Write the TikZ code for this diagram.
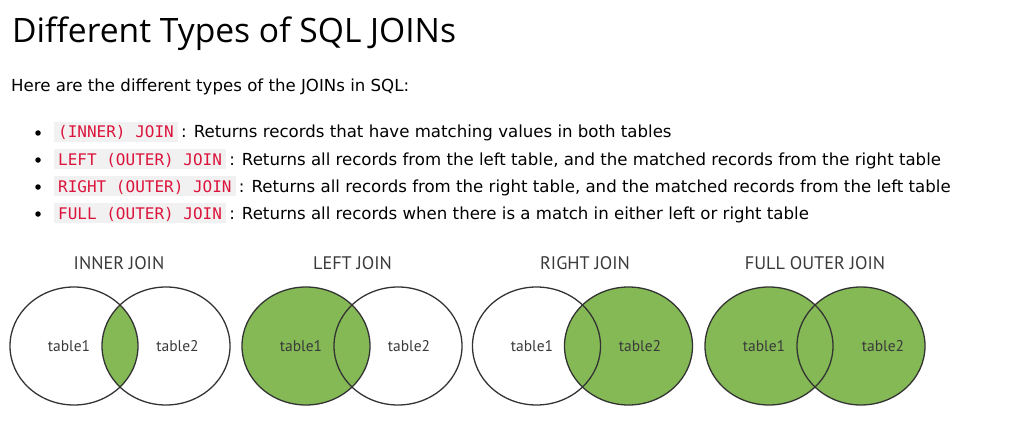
\documentclass[tikz,border=0pt]{standalone}
\usepackage{fontspec}
\setmainfont{DejaVu Sans}
\newfontfamily\titlefont{Open Sans}
\newfontfamily\codefont{DejaVu Sans Mono}
\newfontfamily\vennfont{PT Sans}
\definecolor{codered}{HTML}{DC143C}
\definecolor{codebg}{HTML}{F1F1F1}
\definecolor{venngreen}{HTML}{84B955}
\definecolor{vennline}{HTML}{333333}
\definecolor{venntext}{HTML}{3A3A3A}
\tikzset{
  titletext/.style={inner sep=0, anchor=base west, font=\titlefont\fontsize{33.6}{40}\selectfont},
  bodytext/.style={inner sep=0, anchor=base west, font=\fontsize{16.6}{18}\selectfont},
  codebox/.style={fill=codebg, text=codered, anchor=base west, inner xsep=4pt, inner ysep=3pt,
     text height=13pt, text depth=1pt, font=\codefont\fontsize{16}{18}\selectfont},
  bulletdot/.style={circle, fill=black, inner sep=0, minimum size=5.5pt},
  venntitle/.style={inner sep=0, anchor=base, text=venntext, font=\vennfont\fontsize{18.2}{20}\selectfont},
  vennlabel/.style={inner sep=0, anchor=base, text=venntext, font=\vennfont\fontsize{15.5}{18}\selectfont},
  vennedge/.style={draw=vennline, line width=1.3pt},
}
\begin{document}
\begin{tikzpicture}[x=1pt,y=-1pt]
\useasboundingbox (0,0) rectangle (1014,425);
\node[titletext] (title) at (12,43) {Different Types of SQL JOINs};
\node[bodytext] (intro) at (11,92) {Here are the different types of the JOINs in SQL:};
% bullets
\foreach \i/\y in {1/138,2/165,3/192,4/219}{
  \node[bulletdot] (b\i) at (38,\y-5) {};
}
\node[codebox] (c1) at (54,138) {(INNER) JOIN};
\node[bodytext] (t1) at ([xshift=3pt]c1.base east) {: Returns records that have matching values in both tables};
\node[codebox] (c2) at (54,165) {LEFT (OUTER) JOIN};
\node[bodytext] (t2) at ([xshift=3pt]c2.base east) {: Returns all records from the left table, and the matched records from the right table};
\node[codebox] (c3) at (54,192) {RIGHT (OUTER) JOIN};
\node[bodytext] (t3) at ([xshift=3pt]c3.base east) {: Returns all records from the right table, and the matched records from the left table};
\node[codebox] (c4) at (54,219) {FULL (OUTER) JOIN};
\node[bodytext] (t4) at ([xshift=3pt]c4.base east) {: Returns all records when there is a match in either left or right table};
% venn diagrams
\def\rx{64}\def\ry{59}\def\cy{346}
% inner join
\begin{scope}
  \clip (74,\cy) ellipse [x radius=\rx, y radius=\ry];
  \fill[venngreen] (166,\cy) ellipse [x radius=\rx, y radius=\ry];
\end{scope}
\draw[vennedge] (74,\cy) ellipse [x radius=\rx, y radius=\ry];
\draw[vennedge] (166,\cy) ellipse [x radius=\rx, y radius=\ry];
% left join
\fill[venngreen] (306,\cy) ellipse [x radius=\rx, y radius=\ry];
\draw[vennedge] (306,\cy) ellipse [x radius=\rx, y radius=\ry];
\draw[vennedge] (398,\cy) ellipse [x radius=\rx, y radius=\ry];
% right join
\fill[venngreen] (628.5,\cy) ellipse [x radius=\rx, y radius=\ry];
\draw[vennedge] (536.5,\cy) ellipse [x radius=\rx, y radius=\ry];
\draw[vennedge] (628.5,\cy) ellipse [x radius=\rx, y radius=\ry];
% full outer join
\fill[venngreen] (769,\cy) ellipse [x radius=\rx, y radius=\ry];
\fill[venngreen] (861,\cy) ellipse [x radius=\rx, y radius=\ry];
\draw[vennedge] (769,\cy) ellipse [x radius=\rx, y radius=\ry];
\draw[vennedge] (861,\cy) ellipse [x radius=\rx, y radius=\ry];
% titles
\node[venntitle] (h1) at (119,269) {INNER JOIN};
\node[venntitle] (h2) at (352.5,269) {LEFT JOIN};
\node[venntitle] (h3) at (585,269) {RIGHT JOIN};
\node[venntitle] (h4) at (815,269) {FULL OUTER JOIN};
% labels
\node[vennlabel] (l1a) at (69,351.5) {table1};
\node[vennlabel] (l1b) at (177.5,351.5) {table2};
\node[vennlabel] (l2a) at (301,351.5) {table1};
\node[vennlabel] (l2b) at (409,351.5) {table2};
\node[vennlabel] (l3a) at (532,351.5) {table1};
\node[vennlabel] (l3b) at (640,351.5) {table2};
\node[vennlabel] (l4a) at (764,351.5) {table1};
\node[vennlabel] (l4b) at (883,351.5) {table2};
\end{tikzpicture}
\end{document}
